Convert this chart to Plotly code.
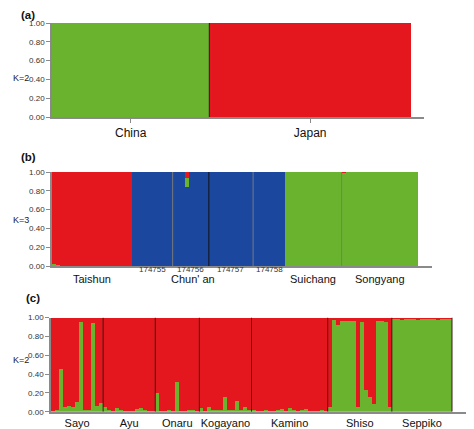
import plotly.graph_objects as go
import numpy as np

GREEN = "#69b32e"
RED = "#e3171d"
BLUE = "#1c479f"
AXIS = "#8a8a8a"
FONT = "Liberation Sans"

# ---- (a) K=2, China vs Japan (whole groups)
a_groups = ["China", "Japan"]
a_n = [78, 100]
a_green = [1.0, 0.0]
a_red = [0.0, 1.0]

# ---- (b) K=3, Chinese populations, one value per individual
b_groups = ["Taishun", "174755", "174756", "174757", "174758", "Suichang", "Songyang"]
b_n = [20, 10, 9, 11, 8, 14, 19]
b_names = ["Taishun", "Chun' an", "Suichang", "Songyang"]
b_name_pos = [10, 35, 65, 81.5]
b_blue = [0, 0, 0, 0, 0, 0, 0, 0, 0, 0, 0, 0, 0, 0, 0, 0, 0, 0, 0, 0,
          1, 1, 1, 1, 1, 1, 1, 1, 1, 1,
          1, 1, 1, 0.836, 1, 1, 1, 1, 1,
          1, 1, 1, 1, 1, 1, 1, 1, 1, 1, 1,
          1, 1, 1, 1, 1, 1, 1, 1,
          0, 0, 0, 0, 0, 0, 0, 0, 0, 0, 0, 0, 0, 0,
          0, 0, 0, 0, 0, 0, 0, 0, 0, 0, 0, 0, 0, 0, 0, 0, 0, 0, 0]
b_green = [0.02, 0.01, 0, 0, 0, 0, 0, 0, 0, 0, 0, 0, 0, 0, 0, 0, 0, 0, 0, 0,
           0, 0, 0, 0, 0, 0, 0, 0, 0, 0,
           0, 0, 0, 0.10, 0, 0, 0, 0, 0,
           0, 0, 0, 0, 0, 0, 0, 0, 0, 0, 0,
           0, 0, 0, 0, 0, 0, 0, 0,
           1, 1, 1, 1, 1, 1, 1, 1, 1, 1, 1, 1, 1, 1,
           0.99, 1, 1, 1, 1, 1, 1, 1, 1, 1, 1, 1, 1, 1, 1, 1, 1, 1, 1]

# ---- (c) K=2, Japanese populations, green membership per individual
c_groups = ["Sayo", "Ayu", "Onaru", "Kogayano", "Kamino", "Shiso", "Seppiko"]
c_n = [13, 13, 11, 13, 19, 16, 15]
c_green = [0.01, 0.02, 0.46, 0.05, 0.07, 0.05, 0.11, 0.96, 0.02, 0.02, 0.95, 0.07, 0.10,
           0.05, 0.02, 0.01, 0.04, 0.02, 0.01, 0.01, 0.01, 0.03, 0.04, 0.02, 0.01, 0.01,
           0.20, 0.01, 0.01, 0.02, 0.01, 0.32, 0.01, 0.01, 0.02, 0.02, 0.01,
           0.04, 0.01, 0.06, 0.02, 0.02, 0.02, 0.16, 0.02, 0.02, 0.12, 0.02, 0.06, 0.02,
           0.02, 0.01, 0.01, 0.02, 0.01, 0.01, 0.02, 0.03, 0.01, 0.04, 0.02, 0.01, 0.02,
           0.03, 0.01, 0.01, 0.01, 0.02, 0.01,
           0.06, 0.98, 0.93, 0.97, 0.97, 0.97, 0.97, 0.06, 0.96, 0.24, 0.16, 0.09, 0.97,
           0.97, 0.96, 0.06,
           0.99, 0.99, 0.98, 0.99, 0.99, 0.99, 0.98, 0.99, 0.99, 0.99, 0.99, 0.98, 0.99,
           0.99, 0.99]

# the page puts the figure 8px in from the top-left corner
PAD = 8
W, H = 474 - PAD, 429 - PAD


def px_x(p):
    return min(max((p - PAD) / W, 0), 1)


def px_y(p):
    return min(max(1 - (p - PAD) / H, 0), 1)


fig = go.Figure()

# (a)
a_edges = np.concatenate([[0], np.cumsum(a_n)])
a_mid = (a_edges[:-1] + a_edges[1:]) / 2
fig.add_trace(go.Bar(x=a_mid, y=a_green, width=a_n, marker_color=GREEN, xaxis="x", yaxis="y"))
fig.add_trace(go.Bar(x=a_mid, y=a_red, width=a_n, marker_color=RED, xaxis="x", yaxis="y"))

# (b)
b_x = np.arange(len(b_blue)) + 0.5
b_red = [round(1 - b - g, 3) for b, g in zip(b_blue, b_green)]
fig.add_trace(go.Bar(x=b_x, y=b_blue, width=1, marker_color=BLUE, xaxis="x2", yaxis="y2"))
fig.add_trace(go.Bar(x=b_x, y=b_green, width=1, marker_color=GREEN, xaxis="x2", yaxis="y2"))
fig.add_trace(go.Bar(x=b_x, y=b_red, width=1, marker_color=RED, xaxis="x2", yaxis="y2"))
b_edges = np.concatenate([[0], np.cumsum(b_n)])

# (c)
c_x = np.arange(len(c_green)) + 0.5
c_red = [round(1 - g, 3) for g in c_green]
fig.add_trace(go.Bar(x=c_x, y=c_green, width=1, marker_color=GREEN, xaxis="x3", yaxis="y3"))
fig.add_trace(go.Bar(x=c_x, y=c_red, width=1, marker_color=RED, xaxis="x3", yaxis="y3"))
c_edges = np.concatenate([[0], np.cumsum(c_n)])
c_mid = (c_edges[:-1] + c_edges[1:]) / 2

fig.update_traces(marker_line_width=0, showlegend=False, hoverinfo="skip")

yax = dict(range=[0, 1], tickvals=[0, 0.2, 0.4, 0.6, 0.8, 1.0], tickformat=".2f",
           ticks="outside", ticklen=4, tickcolor=AXIS, showline=True, linecolor=AXIS,
           linewidth=1.5, showgrid=False, zeroline=False, automargin=False,
           tickfont=dict(family=FONT, size=8, color="#333"))
xax = dict(showline=True, linecolor=AXIS, linewidth=1.5, showgrid=False, zeroline=False,
           automargin=False, tickfont=dict(family=FONT, size=11, color="#111"))

# panel placement in screen pixels: left, bars end, axis end, top, bottom
tot_a, tot_b, tot_c = sum(a_n), sum(b_n), sum(c_n)
fig.update_layout(
    width=W, height=H, margin=dict(l=0, r=0, t=0, b=0, autoexpand=False),
    paper_bgcolor="white", plot_bgcolor="white",
    barmode="stack", bargap=0, showlegend=False,
    xaxis=dict(xax, anchor="y", domain=[px_x(52), px_x(424)], range=[0, tot_a * 372 / 359],
               tickvals=a_mid, ticktext=a_groups, ticks="outside", ticklen=4,
               tickcolor=AXIS, tickfont=dict(family=FONT, size=12, color="#111")),
    yaxis=dict(yax, anchor="x", domain=[px_y(117), px_y(23)]),
    xaxis2=dict(xax, anchor="y2", domain=[px_x(52), px_x(432)], range=[0, tot_b * 380 / 366],
                showticklabels=False, ticks=""),
    yaxis2=dict(yax, anchor="x2", domain=[px_y(266), px_y(172)]),
    xaxis3=dict(xax, anchor="y3", domain=[px_x(51), px_x(467)], range=[0, tot_c * 416 / 401],
                tickvals=c_mid, ticktext=c_groups, ticks=""),
    yaxis3=dict(yax, anchor="x3", domain=[px_y(411.7), px_y(317.5)]),
)

# group dividers
shapes = []
shapes.append(dict(type="line", xref="x", yref="y", x0=a_edges[1], x1=a_edges[1], y0=0, y1=1,
                   line=dict(color="#222", width=1)))
b_line_cols = [None, "#7a7a7a", "#111", "#7a7a7a", None, "#7a7a7a"]
for e, col in zip(b_edges[1:-1], b_line_cols):
    if col:
        shapes.append(dict(type="line", xref="x2", yref="y2", x0=e, x1=e, y0=0, y1=1,
                           line=dict(color=col, width=1)))
for e in c_edges[1:]:
    shapes.append(dict(type="line", xref="x3", yref="y3", x0=e, x1=e, y0=0, y1=1,
                       line=dict(color="#3a1a1a", width=1)))
fig.update_layout(shapes=shapes)

ann = []
for txt, xx, yy in [("(a)", 20, 8), ("(b)", 20, 157), ("(c)", 25, 305)]:
    ann.append(dict(text="<b>" + txt + "</b>", x=px_x(xx), y=px_y(yy),
                    xref="paper", yref="paper", showarrow=False, borderpad=0,
                    font=dict(family=FONT, size=11.5, color="#111")))
for txt, yy in [("K=2", 71), ("K=3", 220), ("K=2", 367)]:
    ann.append(dict(text=txt, x=px_x(10.5), y=px_y(yy), xref="paper", yref="paper",
                    showarrow=False, font=dict(family=FONT, size=9, color="#222")))
b_mid = (b_edges[:-1] + b_edges[1:]) / 2
for g, m in zip(b_groups[1:5], b_mid[1:5]):
    ann.append(dict(text=g, x=m, y=px_y(269.5), xref="x2", yref="paper", showarrow=False,
                    font=dict(family=FONT, size=8, color="#333")))
for g, m in zip(b_names, b_name_pos):
    ann.append(dict(text=g, x=m, y=px_y(279), xref="x2", yref="paper", showarrow=False,
                    font=dict(family=FONT, size=11, color="#111")))
fig.update_layout(annotations=ann)

fig.write_html("out.html")
